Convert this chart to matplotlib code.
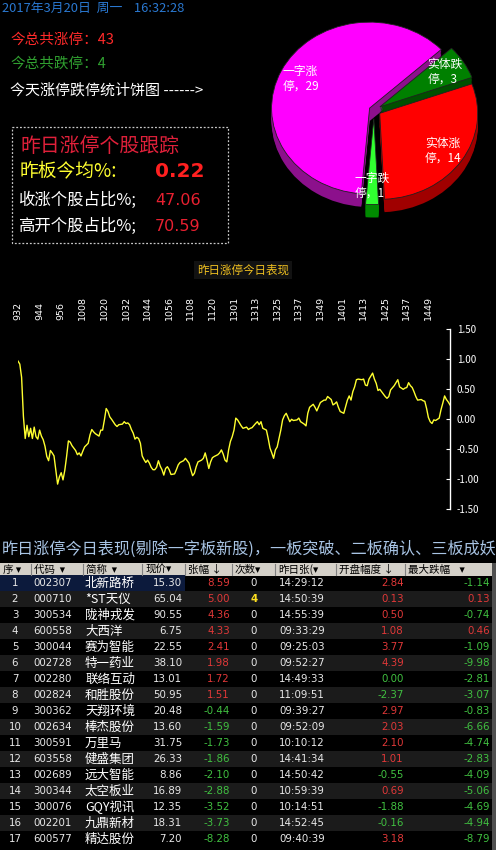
import matplotlib
matplotlib.use('Agg')
import matplotlib.pyplot as plt
from matplotlib.patches import Rectangle
import numpy as np

plt.rcParams['font.family'] = ['Noto Sans CJK SC', 'DejaVu Sans']

# ---------------- data ----------------
date_text = '2017年3月20日  周一    16:32:28'
up_total = 43
down_total = 4

pie_labels = ['一字涨停', '一字跌停', '实体涨停', '实体跌停']
pie_values = [29, 1, 14, 3]

avg_pct = 0.22
close_up_ratio = 47.06
open_high_ratio = 70.59

minute_idx = [0, 1, 2, 3, 4, 5, 6, 7, 8, 9, 10, 11, 12, 13, 14, 15, 16, 17, 18, 19,
              20, 21, 22, 23, 24, 25, 26, 27, 28, 29, 30, 31, 32, 33, 34, 35, 36, 37, 39, 40,
              41, 42, 43, 45, 46, 47, 48, 49, 50, 51, 52, 54, 55, 56, 58, 59, 60, 61, 62, 63,
              64, 65, 66, 67, 68, 69, 70, 71, 72, 73, 74, 75, 76, 77, 78, 79, 80, 81, 82, 83,
              84, 85, 87, 88, 89, 90, 92, 93, 94, 95, 96, 97, 98, 99, 100, 102, 103, 104, 105, 106,
              107, 108, 109, 111, 112, 113, 114, 115, 116, 117, 118, 119, 120, 121, 122, 123, 124, 125, 127, 128,
              129, 130, 132, 133, 134, 135, 136, 138, 139, 140, 141, 142, 143, 144, 145, 146, 147, 148, 149, 150,
              151, 152, 153, 155, 156, 157, 159, 160, 161, 162, 164, 165, 166, 167, 168, 170, 171, 172, 174, 175,
              176, 177, 178, 179, 181, 182, 183, 184, 185, 186, 187, 188, 189, 191, 192, 193, 194, 195, 197, 198,
              199, 200, 201, 202, 204, 205, 206, 207, 209, 210, 211, 212, 214, 215, 216, 217, 218, 219, 220, 221,
              222, 224, 225, 226, 227, 228, 229, 230, 231, 232, 234, 235, 236, 237, 238, 239, 240]
pct_today = [0.97, 0.92, 0.70, 0.05, -0.32, -0.10, -0.29, -0.15, -0.32, -0.13, -0.29, -0.33, -0.18, -0.28, -0.34, -0.45, -0.62, -0.69, -0.52, -0.56,
             -0.61, -0.84, -1.08, -0.96, -0.89, -1.01, -0.85, -0.62, -0.36, -0.38, -0.44, -0.48, -0.52, -0.59, -0.56, -0.61, -0.53, -0.46, -0.40, -0.26,
             -0.17, -0.21, -0.24, -0.28, -0.18, -0.18, -0.01, 0.18, 0.13, 0.04, 0.00, -0.09, -0.12, -0.09, -0.08, -0.04, -0.07, -0.06, -0.09, -0.17,
             -0.23, -0.33, -0.30, -0.32, -0.40, -0.61, -0.67, -0.72, -0.68, -0.73, -0.80, -0.84, -0.84, -0.80, -0.69, -0.78, -0.84, -0.93, -0.82, -0.79,
             -0.84, -0.92, -0.91, -0.84, -0.76, -0.72, -0.69, -0.65, -0.69, -0.73, -0.84, -0.94, -0.90, -0.79, -0.71, -0.68, -0.65, -0.56, -0.68, -0.82,
             -0.71, -0.64, -0.62, -0.59, -0.56, -0.51, -0.58, -0.68, -0.71, -0.51, -0.37, -0.29, -0.18, 0.02, -0.01, -0.06, -0.11, -0.15, -0.13, -0.17,
             -0.15, -0.14, -0.07, -0.04, -0.09, -0.04, -0.15, -0.18, -0.32, -0.48, -0.56, -0.65, -0.51, -0.46, -0.32, -0.18, -0.01, 0.06, 0.10, 0.03,
             -0.04, 0.00, -0.02, -0.01, 0.02, -0.04, -0.08, -0.11, 0.10, 0.20, 0.25, 0.20, 0.14, 0.21, 0.28, 0.32, 0.32, 0.38, 0.33, 0.24,
             0.26, 0.29, 0.20, 0.13, 0.10, 0.21, 0.32, 0.39, 0.32, 0.46, 0.54, 0.66, 0.67, 0.66, 0.67, 0.57, 0.56, 0.67, 0.77, 0.67,
             0.60, 0.48, 0.50, 0.46, 0.38, 0.35, 0.38, 0.49, 0.56, 0.61, 0.66, 0.54, 0.50, 0.52, 0.53, 0.61, 0.56, 0.53, 0.46, 0.38,
             0.32, 0.33, 0.31, 0.30, 0.18, 0.03, -0.04, -0.07, -0.01, -0.02, 0.02, 0.16, 0.27, 0.39, 0.33, 0.29, 0.24]
time_ticks = ['932', '944', '956', '1008', '1020', '1032', '1044', '1056', '1108', '1120',
              '1301', '1313', '1325', '1337', '1349', '1401', '1413', '1425', '1437', '1449']
y_ticks = [1.5, 1.0, 0.5, 0.0, -0.5, -1.0, -1.5]

headers = ['序 ▾', '代码  ▾', '简称  ▾', '现价▾', '张幅 ↓', '次数▾', '昨日张(▾', '开盘幅度 ↓', '最大跌幅    ▾']
codes = ['002307', '000710', '300534', '600558', '300044', '002728', '002280', '002824', '300362',
         '002634', '300591', '603558', '002689', '300344', '300076', '002201', '600577']
names = ['北新路桥', '*ST天仪', '陇神戎发', '大西洋', '赛为智能', '特一药业', '联络互动', '和胜股份', '天翔环境',
         '棒杰股份', '万里马', '健盛集团', '远大智能', '太空板业', 'GQY视讯', '九鼎新材', '精达股份']
prices = [15.30, 65.04, 90.55, 6.75, 22.55, 38.10, 13.01, 50.95, 20.48,
          13.60, 31.75, 26.33, 8.86, 16.89, 12.35, 18.31, 7.20]
chg_pct = [8.59, 5.00, 4.36, 4.33, 2.41, 1.98, 1.72, 1.51, -0.44,
           -1.59, -1.73, -1.86, -2.10, -2.88, -3.52, -3.73, -8.28]
board_count = [0, 4, 0, 0, 0, 0, 0, 0, 0, 0, 0, 0, 0, 0, 0, 0, 0]
limit_time = ['14:29:12', '14:50:39', '14:55:39', '09:33:29', '09:25:03', '09:52:27', '14:49:33', '11:09:51', '09:39:27',
              '09:52:09', '10:10:12', '14:41:34', '14:50:42', '10:59:39', '10:14:51', '14:52:45', '09:40:39']
open_pct = [2.84, 0.13, 0.50, 1.08, 3.77, 4.39, 0.00, -2.37, 2.97,
            2.03, 2.10, 1.01, -0.55, 0.69, -1.88, -0.16, 3.18]
max_drop = [-1.14, 0.13, -0.74, 0.46, -1.09, -9.98, -2.81, -3.07, -0.83,
            -6.66, -4.74, -2.83, -4.09, -5.06, -4.69, -4.94, -8.79]

# ---------------- figure ----------------
W, H = 496, 850
fig = plt.figure(figsize=(W / 100, H / 100), dpi=100, facecolor='black')

ov = fig.add_axes([0, 0, 1, 1])
ov.set_xlim(0, W)
ov.set_ylim(H, 0)
ov.axis('off')

RED = '#ff2a2a'
GREEN = '#30a030'

ov.text(2, 8, date_text, color='#2a78d0', fontsize=9.3, va='center', ha='left')
ov.text(10, 40, f'今总共涨停：{up_total}', color=RED, fontsize=10.5, va='center')
ov.text(10, 64, f'今总共跌停：{down_total}', color=GREEN, fontsize=10.5, va='center')
ov.text(10, 90, '今天涨停跌停统计饼图 ------>', color='white', fontsize=10.8, va='center')

# dashed box
ov.add_patch(Rectangle((12, 127), 216, 116, fill=False, ec='#c8c8c8', lw=0.9, ls=(0, (1.5, 1.5))))
ov.text(20, 146, '昨日涨停个股跟踪', color='#e0203a', fontsize=14.3, va='center')
ov.text(20, 171, '昨板今均%:', color='#ffff30', fontsize=13.5, va='center')
ov.text(155, 171, f'{avg_pct:.2f}', color='#ff2020', fontsize=14.5, va='center', fontweight='bold',
        family='DejaVu Sans')
ov.text(18, 200, '收涨个股占比%;', color='white', fontsize=11.8, va='center')
ov.text(155, 200, f'{close_up_ratio:.2f}', color='#e82030', fontsize=11.5, va='center', family='DejaVu Sans')
ov.text(18, 226, '高开个股占比%;', color='white', fontsize=11.8, va='center')
ov.text(155, 226, f'{open_high_ratio:.2f}', color='#e82030', fontsize=11.5, va='center', family='DejaVu Sans')

# ---------------- 3D-ish pie ----------------
cx, cy, rx, ry = 374, 110, 98, 86
lim = 1.35
pax = fig.add_axes([(cx - lim * rx) / W, 1 - (cy + lim * ry) / H, 2 * lim * rx / W, 2 * lim * ry / H])
top_colors = ['#ff00ff', '#30ff30', '#ff0000', '#008000']
side_colors = ['#8c108c', '#008a00', '#a00000', '#005000']
explode = [0.05, 0.10, 0.07, 0.07]
depth = 0.15
for d in np.linspace(depth, 0.01, 10):
    pax.pie(pie_values, colors=side_colors, explode=explode, startangle=43, counterclock=True,
            center=(0, -d), wedgeprops=dict(lw=0))
lab = [f'{n[:3]}\n{n[3:]}，{v}' for n, v in zip(pie_labels, pie_values)]
wedges, texts = pax.pie(pie_values, colors=top_colors, explode=explode, startangle=43, counterclock=True,
                        labels=lab, labeldistance=0.78,
                        wedgeprops=dict(lw=0.6, edgecolor='#202020'),
                        textprops=dict(color='white', fontsize=8.5))
for t in texts:
    t.set_ha('center')
    t.set_va('center')
    t.set_multialignment('left')
pax.set_aspect('auto')
pax.set_xlim(-lim, lim)
pax.set_ylim(-lim, lim)
pax.axis('off')

# ---------------- line chart ----------------
ov.text(243, 270, '昨日涨停今日表现', color='#f0c020', fontsize=8.3, ha='center', va='center',
        bbox=dict(facecolor='#121212', edgecolor='none', pad=2))

y_top, y_bot = 329.3, 509.3
lax = fig.add_axes([18 / W, 1 - y_bot / H, 432 / W, (y_bot - y_top) / H])
lax.set_facecolor('none')
lax.plot(minute_idx, pct_today, color='#ffff30', lw=1.0)
lax.set_xlim(0, 240)
lax.set_ylim(-1.5, 1.5)
for s in ['left', 'top', 'bottom']:
    lax.spines[s].set_visible(False)
lax.spines['right'].set_color('white')
lax.spines['right'].set_linewidth(1.0)
lax.yaxis.tick_right()
lax.set_yticks(y_ticks)
lax.set_yticklabels([f'{v:.2f}' for v in y_ticks])
lax.tick_params(axis='y', direction='in', length=3, color='white', labelcolor='white',
                labelsize=7, pad=5)
lax.xaxis.tick_top()
lax.set_xticks(range(0, 12 * len(time_ticks), 12))
lax.set_xticklabels(time_ticks, rotation=90, family='DejaVu Sans')
lax.tick_params(axis='x', length=0, labelcolor='white', labelsize=6.8, pad=7)

# ---------------- table ----------------
ov.text(2, 549, '昨日涨停今日表现(剔除一字板新股)，一板突破、二板确认、三板成妖', color='#a8c4e4',
        fontsize=11.6, va='center', ha='left')
col_edges = [0, 31, 83, 142, 185, 232, 275, 336, 405, 492]
hy0, hy1 = 563, 576
ov.add_patch(Rectangle((0, hy0), W, hy1 - hy0, color='#d4d0c8', lw=0))
for i, htxt in enumerate(headers):
    ov.text(col_edges[i] + 3, (hy0 + hy1) / 2, htxt, color='black', fontsize=7.6, va='center', ha='left')
    if i > 0:
        ov.plot([col_edges[i], col_edges[i]], [hy0 + 1, hy1 - 1], color='#808080', lw=0.8)

row_h = 16.0
y0 = 583.3
num_col = '#e8e8e8'
red_c = '#e03838'
grn_c = '#40c040'
for r in range(len(codes)):
    yc = y0 + r * row_h
    if r == 0:
        ov.add_patch(Rectangle((0, yc - row_h / 2), 185, row_h, color='#0c1a3c', lw=0))
    elif r % 2 == 1:
        ov.add_patch(Rectangle((0, yc - row_h / 2), 492, row_h, color='#1b1b1b', lw=0))
    fs = 7.4
    ov.text(15, yc, str(r + 1), color=num_col, fontsize=fs, ha='center', va='center', family='DejaVu Sans')
    ov.text(33, yc, codes[r], color=num_col, fontsize=fs, ha='left', va='center', family='DejaVu Sans')
    ov.text(85, yc, names[r], color='white', fontsize=9, ha='left', va='center')
    ov.text(182, yc, f'{prices[r]:.2f}', color=num_col, fontsize=fs, ha='right', va='center', family='DejaVu Sans')
    ov.text(230, yc, f'{chg_pct[r]:.2f}', color=red_c if chg_pct[r] > 0 else grn_c, fontsize=fs,
            ha='right', va='center', family='DejaVu Sans')
    bc = board_count[r]
    ov.text(254, yc, str(bc), color='#ffe020' if bc > 0 else num_col, fontsize=fs, ha='center', va='center',
            family='DejaVu Sans', fontweight='bold' if bc > 0 else 'normal')
    ov.text(302, yc, limit_time[r], color=num_col, fontsize=fs, ha='center', va='center', family='DejaVu Sans')
    ov.text(404, yc, f'{open_pct[r]:.2f}', color=red_c if open_pct[r] > 0 else grn_c, fontsize=fs,
            ha='right', va='center', family='DejaVu Sans')
    ov.text(490, yc, f'{max_drop[r]:.2f}', color=red_c if max_drop[r] > 0 else grn_c, fontsize=fs,
            ha='right', va='center', family='DejaVu Sans')
ov.add_patch(Rectangle((492, hy0), 4, H - hy0, color='#505050', lw=0))

fig.savefig('out.png', dpi=100, facecolor='black')
